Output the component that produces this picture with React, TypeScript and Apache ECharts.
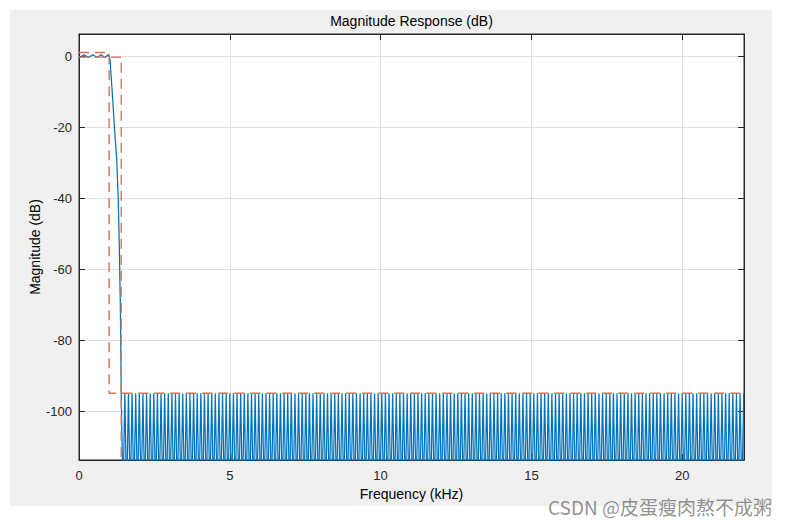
import React, { useEffect, useRef } from "react";
import * as echarts from "echarts";

const TITLE = "Magnitude Response (dB)";
const X_LABEL = "Frequency (kHz)";
const Y_LABEL = "Magnitude (dB)";
const WATERMARK = "CSDN @皮蛋瘦肉熬不成粥";

const X_TICKS = [0, 5, 10, 15, 20];
const Y_TICKS = [-100, -80, -60, -40, -20, 0];
const X_MIN = 0;
const X_MAX = 22.05;
const Y_MIN = -113.8;
const Y_MAX = 6.2;

// Passband ripple and transition band (kHz, dB)
const passFreq = [0, 0.04, 0.17, 0.31, 0.46, 0.6, 0.73, 0.86, 0.98, 1.03, 1.063, 1.12, 1.173, 1.25, 1.3, 1.34, 1.37, 1.39, 1.4];
const passDb = [-0.2, -0.35, 0.35, -0.4, 0.35, -0.4, 0.35, -0.4, 0.4, -1, -5.4, -12.5, -20, -29, -40, -55, -70, -85, -95];

// Stopband equiripple: nulls and peaks (kHz)
const stopNullFreq = [
  1.46, 1.58, 1.7, 1.82, 1.94, 2.06, 2.18, 2.3, 2.42, 2.54, 2.66, 2.78, 2.9, 3.02, 3.14, 3.26, 3.38, 3.5, 3.62, 3.74, 3.86, 3.98, 4.1, 4.22, 4.34,
  4.46, 4.58, 4.7, 4.82, 4.94, 5.06, 5.18, 5.3, 5.42, 5.54, 5.66, 5.78, 5.9, 6.02, 6.14, 6.26, 6.38, 6.5, 6.62, 6.74, 6.86, 6.98, 7.1, 7.22, 7.34,
  7.46, 7.58, 7.7, 7.82, 7.94, 8.06, 8.18, 8.3, 8.42, 8.54, 8.66, 8.78, 8.9, 9.02, 9.14, 9.26, 9.38, 9.5, 9.62, 9.74, 9.86, 9.98, 10.1, 10.22, 10.34,
  10.46, 10.58, 10.7, 10.82, 10.94, 11.06, 11.18, 11.3, 11.42, 11.54, 11.66, 11.78, 11.9, 12.02, 12.14, 12.26, 12.38, 12.5, 12.62, 12.74, 12.86, 12.98, 13.1, 13.22, 13.34,
  13.46, 13.58, 13.7, 13.82, 13.94, 14.06, 14.18, 14.3, 14.42, 14.54, 14.66, 14.78, 14.9, 15.02, 15.14, 15.26, 15.38, 15.5, 15.62, 15.74, 15.86, 15.98, 16.1, 16.22, 16.34,
  16.46, 16.58, 16.7, 16.82, 16.94, 17.06, 17.18, 17.3, 17.42, 17.54, 17.66, 17.78, 17.9, 18.02, 18.14, 18.26, 18.38, 18.5, 18.62, 18.74, 18.86, 18.98, 19.1, 19.22, 19.34,
  19.46, 19.58, 19.7, 19.82, 19.94, 20.06, 20.18, 20.3, 20.42, 20.54, 20.66, 20.78, 20.9, 21.02, 21.14, 21.26, 21.38, 21.5, 21.62, 21.74, 21.86, 21.98,
];
const stopPeakFreq = [
  1.52, 1.64, 1.76, 1.88, 2.0, 2.12, 2.24, 2.36, 2.48, 2.6, 2.72, 2.84, 2.96, 3.08, 3.2, 3.32, 3.44, 3.56, 3.68, 3.8, 3.92, 4.04, 4.16, 4.28, 4.4,
  4.52, 4.64, 4.76, 4.88, 5.0, 5.12, 5.24, 5.36, 5.48, 5.6, 5.72, 5.84, 5.96, 6.08, 6.2, 6.32, 6.44, 6.56, 6.68, 6.8, 6.92, 7.04, 7.16, 7.28, 7.4,
  7.52, 7.64, 7.76, 7.88, 8.0, 8.12, 8.24, 8.36, 8.48, 8.6, 8.72, 8.84, 8.96, 9.08, 9.2, 9.32, 9.44, 9.56, 9.68, 9.8, 9.92, 10.04, 10.16, 10.28, 10.4,
  10.52, 10.64, 10.76, 10.88, 11.0, 11.12, 11.24, 11.36, 11.48, 11.6, 11.72, 11.84, 11.96, 12.08, 12.2, 12.32, 12.44, 12.56, 12.68, 12.8, 12.92, 13.04, 13.16, 13.28, 13.4,
  13.52, 13.64, 13.76, 13.88, 14.0, 14.12, 14.24, 14.36, 14.48, 14.6, 14.72, 14.84, 14.96, 15.08, 15.2, 15.32, 15.44, 15.56, 15.68, 15.8, 15.92, 16.04, 16.16, 16.28, 16.4,
  16.52, 16.64, 16.76, 16.88, 17.0, 17.12, 17.24, 17.36, 17.48, 17.6, 17.72, 17.84, 17.96, 18.08, 18.2, 18.32, 18.44, 18.56, 18.68, 18.8, 18.92, 19.04, 19.16, 19.28, 19.4,
  19.52, 19.64, 19.76, 19.88, 20.0, 20.12, 20.24, 20.36, 20.48, 20.6, 20.72, 20.84, 20.96, 21.08, 21.2, 21.32, 21.44, 21.56, 21.68, 21.8, 21.92, 22.04,
];
const STOP_PEAK_DB = -95;
const STOP_NULL_DB = -125;

// Specification mask (dashed)
const maskAFreq = [0, 1.0, 1.0, 22.05];
const maskADb = [1, 1, -95, -95];
const maskBFreq = [0, 1.4, 1.4];
const maskBDb = [-0.3, -0.3, -125];

const FONT = "'Liberation Sans', Arial, Helvetica, sans-serif";
const INK = "#262626";
const BLUE = "#0072BD";
const MASK = "#dd6f58";

export default function App() {
  const ref = useRef<HTMLDivElement>(null);

  useEffect(() => {
    if (!ref.current) return;
    const chart = echarts.init(ref.current, undefined, { renderer: "svg" });

    const response: number[][] = passFreq.map((f, i) => [f, passDb[i]]);
    for (let i = 0; i < stopNullFreq.length; i++) {
      response.push([stopNullFreq[i], STOP_NULL_DB]);
      if (i < stopPeakFreq.length) response.push([stopPeakFreq[i], STOP_PEAK_DB]);
    }
    const maskA = maskAFreq.map((f, i) => [f, maskADb[i]]);
    const maskB = maskBFreq.map((f, i) => [f, maskBDb[i]]);

    const left = 79;
    const top = 34;
    const right = 786 - 744;
    const bottom = 526 - 460;

    const tick = { show: true, inside: true, length: 6, lineStyle: { color: INK, width: 1 } };
    const line = { show: true, onZero: false, lineStyle: { color: INK, width: 1 } };

    chart.setOption({
      animation: false,
      backgroundColor: "transparent",
      grid: {
        left, top, right, bottom,
        show: true,
        backgroundColor: "#ffffff",
        borderColor: INK,
        borderWidth: 1,
      },
      xAxis: [
        {
          type: "value",
          min: X_MIN,
          max: X_MAX,
          position: "bottom",
          axisLine: line,
          axisTick: { ...tick, customValues: X_TICKS },
          axisLabel: { customValues: X_TICKS, color: INK, fontSize: 13, fontFamily: FONT, margin: 9 },
          splitLine: { show: true, lineStyle: { color: "#dfdfdf", width: 1 } },
        },
        {
          type: "value",
          min: X_MIN,
          max: X_MAX,
          position: "top",
          axisLine: line,
          axisTick: { ...tick, customValues: X_TICKS },
          axisLabel: { show: false },
          splitLine: { show: false },
        },
      ],
      yAxis: [
        {
          type: "value",
          min: Y_MIN,
          max: Y_MAX,
          position: "left",
          axisLine: line,
          axisTick: { ...tick, customValues: Y_TICKS },
          axisLabel: { customValues: Y_TICKS, color: INK, fontSize: 13, fontFamily: FONT, margin: 7 },
          splitLine: { show: true, lineStyle: { color: "#dfdfdf", width: 1 } },
        },
        {
          type: "value",
          min: Y_MIN,
          max: Y_MAX,
          position: "right",
          axisLine: line,
          axisTick: { ...tick, customValues: Y_TICKS },
          axisLabel: { show: false },
          splitLine: { show: false },
        },
      ],
      series: [
        {
          type: "line",
          data: response,
          xAxisIndex: 0,
          yAxisIndex: 0,
          showSymbol: false,
          symbol: "none",
          lineStyle: { color: BLUE, width: 1.25 },
          clip: true,
          silent: true,
        },
        {
          type: "line",
          data: maskA,
          xAxisIndex: 0,
          yAxisIndex: 0,
          showSymbol: false,
          symbol: "none",
          lineStyle: { color: MASK, width: 1.4, type: [10, 6] },
          clip: true,
          silent: true,
        },
        {
          type: "line",
          data: maskB,
          xAxisIndex: 0,
          yAxisIndex: 0,
          showSymbol: false,
          symbol: "none",
          lineStyle: { color: MASK, width: 1.4, type: [10, 6] },
          clip: true,
          silent: true,
        },
      ],
      graphic: [
        {
          type: "text",
          x: 411.5,
          y: 21,
          style: { text: TITLE, fill: "#000000", font: `14px ${FONT}`, textAlign: "center", textVerticalAlign: "middle" },
        },
        {
          type: "text",
          x: 411.5,
          y: 494,
          style: { text: X_LABEL, fill: "#000000", font: `14px ${FONT}`, textAlign: "center", textVerticalAlign: "middle" },
        },
        {
          type: "text",
          x: 35,
          y: 247,
          rotation: Math.PI / 2,
          style: { text: Y_LABEL, fill: "#000000", font: `14px ${FONT}`, textAlign: "center", textVerticalAlign: "middle" },
        },
        {
          type: "text",
          x: 772,
          y: 506,
          style: {
            text: WATERMARK,
            fill: "rgba(110,110,110,0.75)",
            font: `19px 'Noto Sans CJK SC', 'Noto Sans', sans-serif`,
            textAlign: "right",
            textVerticalAlign: "middle",
          },
        },
      ],
    });

    return () => chart.dispose();
  }, []);

  return (
    <div style={{ position: "fixed", left: 0, top: 0, width: 786, height: 526, background: "#ffffff" }}>
      <div style={{ position: "absolute", left: 10, top: 10, width: 762, height: 496, background: "#f0f0f0" }} />
      <div ref={ref} style={{ position: "absolute", left: 0, top: 0, width: 786, height: 526 }} />
    </div>
  );
}
